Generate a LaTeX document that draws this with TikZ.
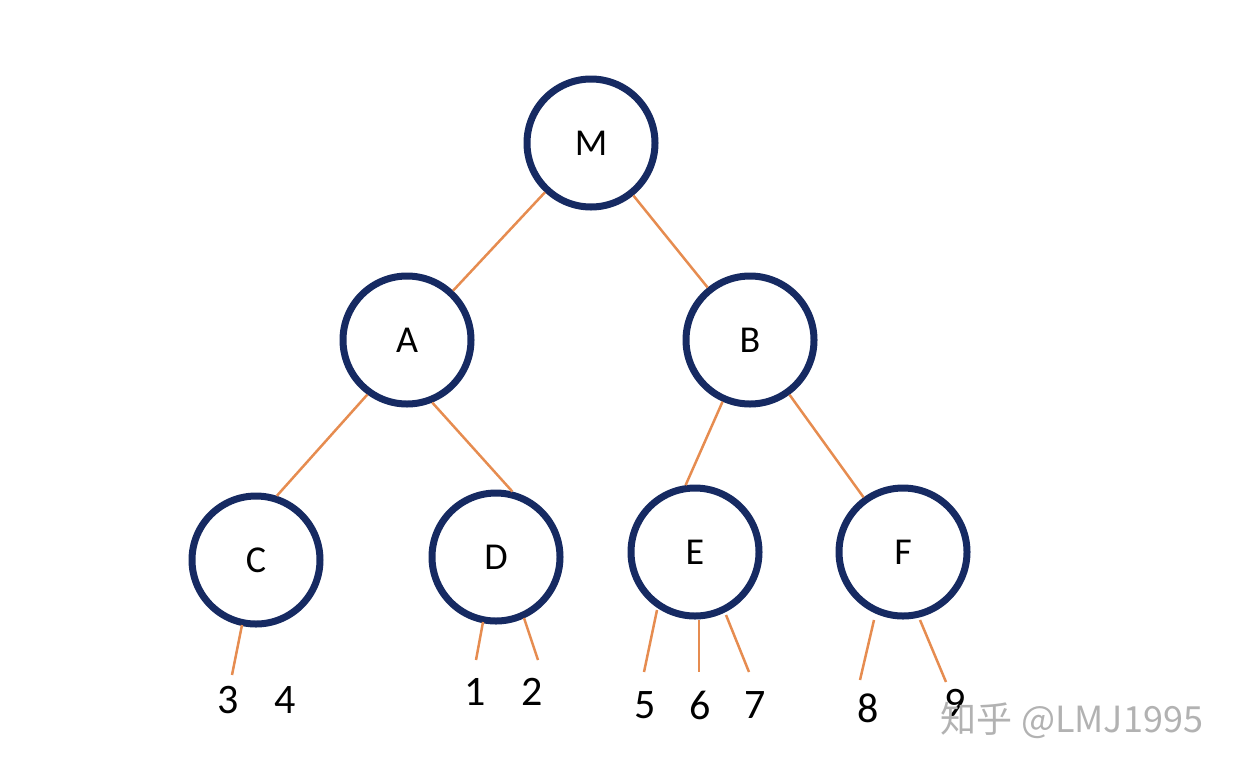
\documentclass[tikz,border=0pt]{standalone}
\usepackage{fontspec}
\setmainfont{Carlito}
\newfontfamily\cjk{Noto Sans CJK SC}
\definecolor{navy}{RGB}{22,42,98}
\definecolor{edge}{RGB}{230,140,80}
\begin{document}
\begin{tikzpicture}[x=1pt,y=-1pt,
  tn/.style={circle,draw=navy,line width=7pt,minimum size=128pt,inner sep=0pt,font=\fontsize{38}{42}\selectfont},
  ed/.style={draw=edge,line width=2.5pt},
  lab/.style={font=\fontsize{42}{46}\selectfont,inner sep=0pt}]
\useasboundingbox (0,0) rectangle (1236,772);
\node[tn] (M) at (591,143) {M};
\node[tn] (A) at (407,340) {A};
\node[tn] (B) at (750,340) {B};
\node[tn] (C) at (256,560) {C};
\node[tn] (D) at (496,557) {D};
\node[tn] (E) at (695,552) {E};
\node[tn] (F) at (903,552) {F};
\draw[ed] (M) -- (A); \draw[ed] (M) -- (B);
\draw[ed] (A.234) -- (C.72); \draw[ed] (A.292) -- (D.76);
\draw[ed] (B.246) -- (E.98); \draw[ed] (B) -- (F);
\coordinate (c1a) at (242,625); \coordinate (c1b) at (232,675);
\coordinate (d1a) at (483,622); \coordinate (d1b) at (476,660);
\coordinate (d2a) at (524,618); \coordinate (d2b) at (538,660);
\coordinate (e1a) at (657,610); \coordinate (e1b) at (644,672);
\coordinate (e2a) at (699,620); \coordinate (e2b) at (699,672);
\coordinate (e3a) at (726,615); \coordinate (e3b) at (749,672);
\coordinate (f1a) at (874,620); \coordinate (f1b) at (860,680);
\coordinate (f2a) at (920,620); \coordinate (f2b) at (946,682);
\foreach \p in {c1,d1,d2,e1,e2,e3,f1,f2} \draw[ed] (\p a) -- (\p b);
\node[lab] (l3) at (228,700) {3};
\node[lab] (l4) at (285,700) {4};
\node[lab] (l1) at (475,692) {1};
\node[lab] (l2) at (532,692) {2};
\node[lab] (l5) at (645,705) {5};
\node[lab] (l6) at (700,705) {6};
\node[lab] (l7) at (755,705) {7};
\node[lab] (l8) at (868,708) {8};
\node[lab] (l9) at (955,703) {9};
\node[text=gray!60,font=\cjk\fontsize{36}{40}\selectfont,inner sep=0pt] (wm) at (1072,720) {知乎 @LMJ1995};
\end{tikzpicture}
\end{document}
